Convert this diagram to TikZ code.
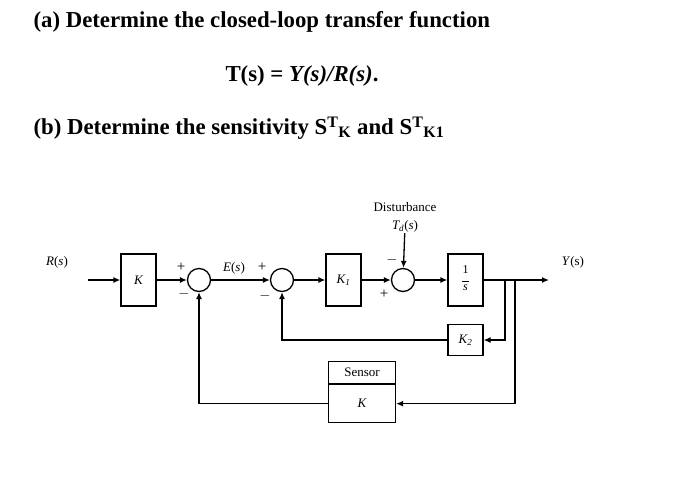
\documentclass[tikz,border=0pt]{standalone}
\usepackage{fontspec}
\setmainfont{Liberation Serif}
\usetikzlibrary{arrows.meta}
\begin{document}
\begin{tikzpicture}[x=1pt,y=-1pt,
  blk/.style={draw,line width=1.3pt,minimum width=35pt,minimum height=52pt,inner sep=0,font=\fontsize{13}{15}\selectfont\itshape},
  sm/.style={draw,circle,line width=1.3pt,minimum size=23pt,inner sep=0},
  lab/.style={font=\fontsize{13}{15}\selectfont},
  sig/.style={font=\fontsize{15}{15}\selectfont,inner sep=0},
  ar/.style={line width=1.3pt,-{Latex[length=7pt,width=6pt]}},
  ln/.style={line width=1.3pt}]
\useasboundingbox (0,0) rectangle (700,490);
\node[anchor=west,font=\fontsize{22.8}{26}\selectfont\bfseries] (ta) at (30,22) {(a) Determine the closed-loop transfer function};
\node[font=\fontsize{22.8}{26}\selectfont\bfseries] (tb) at (302,76) {T(s) = \textit{Y(s)/R(s)}.};
\node[anchor=west,font=\fontsize{22.8}{26}\selectfont\bfseries] (tc) at (30,128) {(b) Determine the sensitivity S\textsuperscript{T}\textsubscript{K} and S\textsuperscript{T}\textsubscript{K1}};

\node[lab] (R) at (57,262) {\textit{R}(\textit{s})};
\node[lab] (Y) at (573,262) {\textit{Y}(s)};
\coordinate (in) at (88,280);
\node[blk] (K) at (138.5,280) {K};
\node[sm] (s1) at (199,280) {};
\node[sm] (s2) at (282,280) {};
\node[blk] (K1) at (343.5,280) {K\textsubscript{1}};
\node[sm] (s3) at (403,280) {};
\node[blk,font=\fontsize{12}{12}\selectfont\itshape] (I) at (465.5,280) {\begin{tabular}{@{}c@{}}\upshape 1\\[-4pt]\rule{7pt}{0.5pt}\\[-3pt] s\end{tabular}};
\coordinate (b1) at (505,280);
\coordinate (b2) at (515,280);
\coordinate (out) at (549,280);
\node[draw,line width=1.3pt,minimum width=35pt,minimum height=31pt,inner sep=0,font=\fontsize{13}{15}\selectfont\itshape] (K2) at (465.5,340) {K\textsubscript{2}};
\node[draw,line width=1.3pt,minimum width=67pt,minimum height=22pt,inner sep=0,lab,anchor=south] (sen) at (362,384) {Sensor};
\node[draw,line width=1.3pt,minimum width=67pt,minimum height=38pt,inner sep=0,font=\fontsize{13}{15}\selectfont\itshape,anchor=north] (Ks) at (362,384) {K};
\node[lab] (dist) at (405,207) {Disturbance};
\node[lab,inner sep=1pt] (Td) at (405,226) {\textit{T\textsubscript{d}}(\textit{s})};

\draw[ar] (in) -- (K);
\draw[ar] (K) -- (s1);
\draw[ar] (s1) -- (s2);
\draw[ar] (s2) -- (K1);
\draw[ar] (K1) -- (s3);
\draw[ar] (s3) -- (I);
\draw[ar] (I) -- (out);
\draw[ar] (Td) -- (s3);
\draw[ar] (b1) |- (K2);
\draw[ar] (K2) -| (s2);
\draw[ar] (b2) |- (Ks.east);
\draw[ar] (Ks.west) -| (s1);
\node[lab] (Es) at (234,268) {\textit{E}(\textit{s})};
\node[sig] (p1) at (181,267) {+};
\node[sig] (m1) at (184,294) {$-$};
\node[sig] (p2) at (262,267) {+};
\node[sig] (m2) at (265,296) {$-$};
\node[sig] (m3) at (392,260) {$-$};
\node[sig] (p3) at (384,294) {+};
\end{tikzpicture}
\end{document}
